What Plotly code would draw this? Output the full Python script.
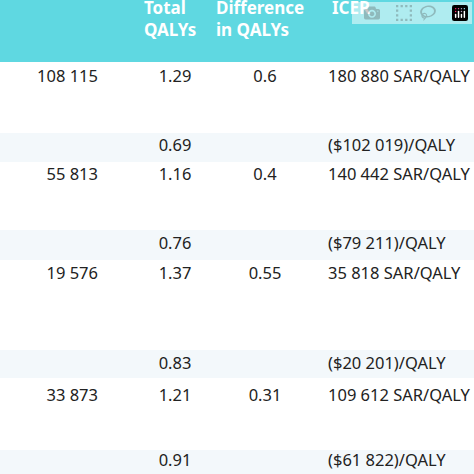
import plotly.graph_objects as go

# table data (one entry per printed row; '' where the cell is empty)
diff_costs = ['108 115', '', '55 813', '', '19 576', '', '33 873', '']
total_qalys = ['1.29', '0.69', '1.16', '0.76', '1.37', '0.83', '1.21', '0.91']
diff_qalys = ['0.6', '', '0.4', '', '0.55', '', '0.31', '']
icer = ['180 880 SAR/QALY', '($102 019)/QALY', '140 442 SAR/QALY', '($79 211)/QALY',
        '35 818 SAR/QALY', '($20 201)/QALY', '109 612 SAR/QALY', '($61 822)/QALY']
headers = ['Difference in<br>costs (SAR)', 'Total<br>QALYs', 'Difference<br>in QALYs', 'ICER']

# layout (pixel grid of the crop)
row_y = [78, 147, 176, 245, 275, 365, 397, 462]
bands = [(-10, 62, '#5fd8e1'), (133, 162, '#f3f8fb'), (230, 260, '#f3f8fb'),
         (350, 378, '#f3f8fb'), (450, 490, '#f3f8fb')]
font = dict(family='Noto Sans, Open Sans', size=16.5, color='#222')

fig = go.Figure()
fig.add_trace(go.Scatter(x=[98] * 8, y=row_y, text=diff_costs, mode='text',
                         textposition='middle left', textfont=font, cliponaxis=False))
fig.add_trace(go.Scatter(x=[175] * 8, y=row_y, text=total_qalys, mode='text',
                         textposition='middle center', textfont=font, cliponaxis=False))
fig.add_trace(go.Scatter(x=[265] * 8, y=row_y, text=diff_qalys, mode='text',
                         textposition='middle center', textfont=font, cliponaxis=False))
fig.add_trace(go.Scatter(x=[328] * 8, y=row_y, text=icer, mode='text',
                         textposition='middle right', textfont=font, cliponaxis=False))

for y0, y1, c in bands:
    fig.add_shape(type='rect', x0=-10, x1=500, y0=y0, y1=y1, fillcolor=c,
                  line_width=0, layer='below')

for hx, h in zip([-1, 142, 214, 330], headers):
    fig.add_annotation(x=hx, xref='x', y=1.012, yref='paper', text='<b>' + h + '</b>',
                       showarrow=False, xanchor='left', yanchor='top', align='left',
                       font=dict(family='Noto Sans, Open Sans', size=17, color='white'))

fig.update_layout(width=474, height=474, margin=dict(l=0, r=0, t=0, b=0),
                  showlegend=False, plot_bgcolor='white', paper_bgcolor='white',
                  xaxis=dict(range=[0, 474], visible=False, fixedrange=True),
                  yaxis=dict(range=[474, 0], visible=False, fixedrange=True))
fig.write_html('out.html', post_script="document.body.style.margin='0';")
